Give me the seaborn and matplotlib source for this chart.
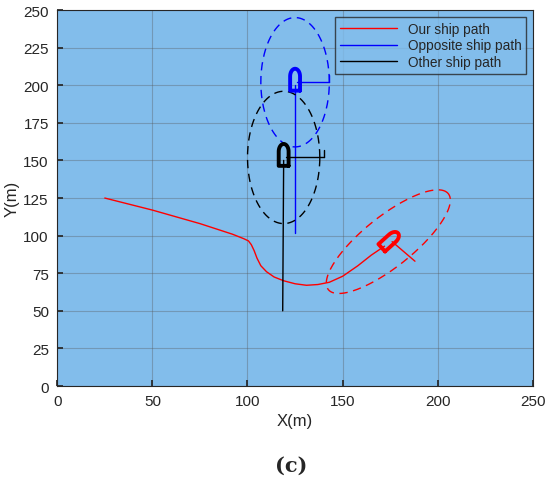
import numpy as np
import matplotlib.pyplot as plt
import seaborn as sns

sns.set_theme(style="white")
plt.rcParams["font.family"] = ["Arial", "Liberation Sans", "DejaVu Sans"]

# Paths
our_x = [25, 50, 75, 92, 98, 100.5, 102, 103.5, 105, 107, 110, 114, 119, 125, 131, 137, 143, 150, 158, 165, 172]
our_y = [125, 117, 108, 101, 98, 96.5, 94, 90, 85, 80, 76, 72.5, 70, 68, 67, 67.5, 69, 73, 80, 87, 93]
opp_x = [125, 125]
opp_y = [102, 200]
oth_x = [118.5, 119]
oth_y = [50, 150]

# Ships: (x, y, heading deg, color), ellipse (cx, cy, a, b, angle)
ships = [(175, 97, 42, "red"), (125, 204, 90, "blue"), (119, 154, 90, "black")]
ellipses = [(174, 96, 45, 15, 47, "red"), (125, 202, 18, 43, 0, "blue"), (119, 152, 19, 44, 0, "black")]
ranges = [((176, 96), (188, 83)), ((126, 202), (143, 202)), ((120, 152), (140, 152))]

fig, ax = plt.subplots(figsize=(5.5, 5.02), dpi=100)
fig.subplots_adjust(left=0.104, right=0.969, top=0.978, bottom=0.229)
ax.set_facecolor("#82bdeb")

sns.lineplot(x=our_x, y=our_y, color="red", lw=1, ax=ax, label="Our ship path",
             sort=False, estimator=None)
sns.lineplot(x=opp_x, y=opp_y, color="blue", lw=1, ax=ax, label="Opposite ship path",
             sort=False, estimator=None)
sns.lineplot(x=oth_x, y=oth_y, color="black", lw=1, ax=ax, label="Other ship path",
             sort=False, estimator=None)

t = np.linspace(0, 2 * np.pi, 200)
for cx, cy, a, b, ang, c in ellipses:
    r = np.radians(ang)
    ex = cx + a * np.cos(t) * np.cos(r) - b * np.sin(t) * np.sin(r)
    ey = cy + a * np.cos(t) * np.sin(r) + b * np.sin(t) * np.cos(r)
    ax.plot(ex, ey, color=c, lw=1, dashes=(6, 4))

# bullet-shaped hull in ship frame (length along heading)
hu = np.linspace(-np.pi / 2, np.pi / 2, 20)
hull_l = np.concatenate([[-6, 1.5], 1.5 + 4 * np.cos(hu), [-6, -6]])
hull_w = np.concatenate([[-2.6, -2.6], 2.6 * np.sin(hu), [2.6, -2.6]])
ky = 1.904 / 1.504  # data-unit aspect correction
for (x, y, h, c) in ships:
    r = np.radians(h)
    px = x + (hull_l * np.cos(r) - hull_w * np.sin(r))
    py = y + (hull_l * np.sin(r) + hull_w * np.cos(r)) * ky
    ax.plot(px, py, color=c, lw=2.8, solid_joinstyle="round")
for (p0, p1), c in zip(ranges, ["red", "blue", "black"]):
    ax.plot([p0[0], p1[0]], [p0[1], p1[1]], color=c, lw=1)
    if p0[1] == p1[1]:
        ax.plot([p1[0], p1[0]], [p1[1], p1[1] + 5], color=c, lw=1)

ax.set_xlim(0, 250)
ax.set_ylim(0, 250)
ax.set_xticks(range(0, 251, 50))
ax.set_yticks(range(0, 251, 25))
ax.grid(True, color="#555555", alpha=0.35, lw=0.8)
for s in ax.spines.values():
    s.set_color("#262626")
    s.set_linewidth(0.8)
ax.tick_params(labelsize=11, colors="#262626", direction="in", length=4, pad=6,
               bottom=True, left=True)
ax.set_xlabel("X(m)", fontsize=12, labelpad=3)
ax.set_ylabel("Y(m)", fontsize=12, labelpad=3)
leg = ax.legend(loc="upper right", fontsize=9.8, frameon=True, fancybox=False,
                borderpad=0.35, handlelength=4.2, labelspacing=0.2, facecolor="#82bdeb")
leg.get_frame().set_edgecolor("#262626")
fig.text(0.53, 0.06, "(c)", ha="center", fontsize=15, fontweight="bold", family="DejaVu Serif")
fig.savefig("out.png", facecolor="white")
